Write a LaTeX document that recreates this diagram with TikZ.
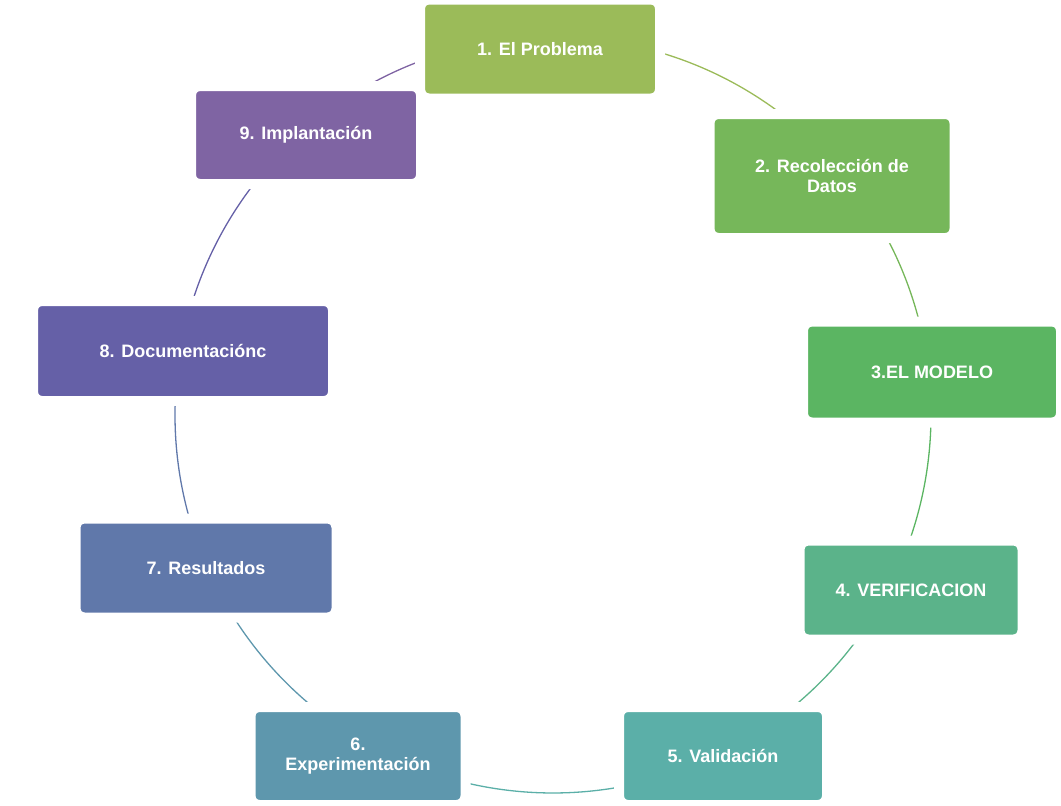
\documentclass[tikz,border=0pt]{standalone}
\usepackage{fontspec}
\setmainfont{Liberation Sans}
\usetikzlibrary{calc}
\begin{document}
\begin{tikzpicture}[x=1pt,y=-1pt]
\useasboundingbox (0,0) rectangle (1061,806);
\definecolor{c1}{HTML}{9BBB59}\definecolor{c2}{HTML}{76B75A}\definecolor{c3}{HTML}{5BB562}
\definecolor{c4}{HTML}{5BB38A}\definecolor{c5}{HTML}{5BAFA8}\definecolor{c6}{HTML}{5E97AD}
\definecolor{c7}{HTML}{6078AA}\definecolor{c8}{HTML}{6560A7}\definecolor{c9}{HTML}{7F64A3}
\tikzset{stagebox/.style={rounded corners=9pt,draw=white,line width=10pt,text=white,
  font=\fontsize{18}{20}\selectfont\bfseries,align=center,inner sep=0pt},
  ring/.style={line width=1.3pt}}
\coordinate (C) at (553,415);
\def\R{378}
\foreach \a/\b/\c in {268/319.4/c1,319.4/353.5/c2,353.5/386/c3,26/63.5/c4,63.5/120/c5,120/156/c6,156/190/c7,190/228.6/c8,228.6/268/c9}
  \draw[ring,\c] ($(C)+(\a:\R)$) arc[start angle=\a,end angle=\b,radius=\R];
\node[stagebox,fill=c1,minimum width=240,minimum height=99] (n1) at (540,49) {1. El Problema};
\node[stagebox,fill=c2,minimum width=245,minimum height=124] (n2) at (832,176) {2. Recolección de\\Datos};
\node[stagebox,fill=c3,minimum width=258,minimum height=101] (n3) at (932,372) {3.EL MODELO};
\node[stagebox,fill=c4,minimum width=223,minimum height=99] (n4) at (911,590) {4. VERIFICACION};
\node[stagebox,fill=c5,minimum width=208,minimum height=98] (n5) at (723,756) {5. Validación};
\node[stagebox,fill=c6,minimum width=215,minimum height=98] (n6) at (358,756) {6.\\Experimentación};
\node[stagebox,fill=c7,minimum width=261,minimum height=99] (n7) at (206,568) {7. Resultados};
\node[stagebox,fill=c8,minimum width=300,minimum height=100] (n8) at (183,351) {8. Documentaciónc};
\node[stagebox,fill=c9,minimum width=230,minimum height=98] (n9) at (306,135) {9. Implantación};
\end{tikzpicture}
\end{document}
